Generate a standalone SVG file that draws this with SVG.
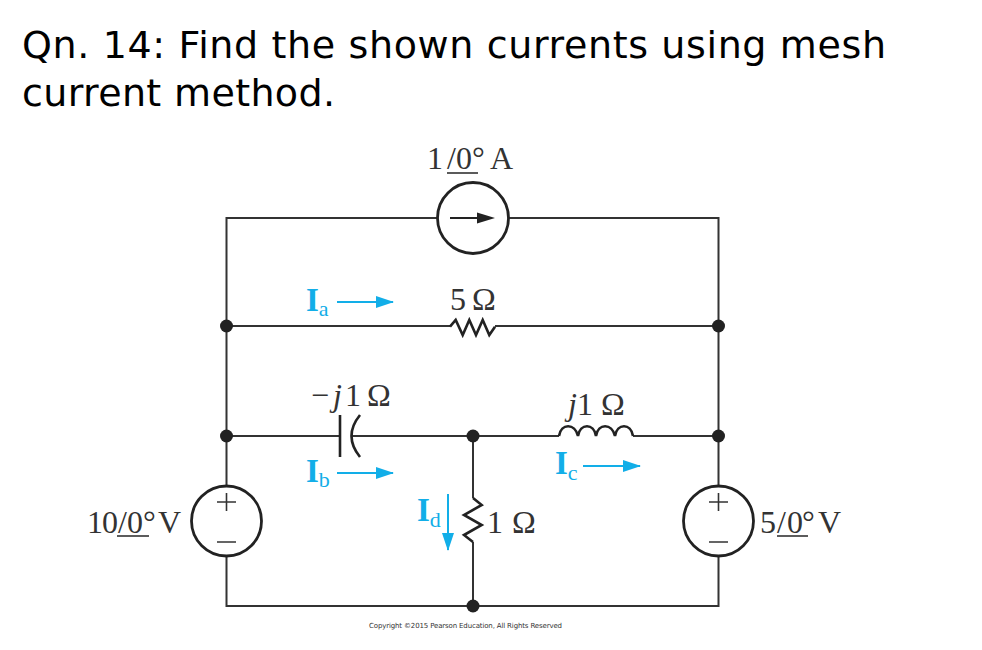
<svg xmlns="http://www.w3.org/2000/svg" width="982" height="650" viewBox="0 0 982 650">
<style>
.w{fill:none;stroke:#333;stroke-width:2}
.c{fill:none;stroke:#222;stroke-width:2.6}
.e{fill:#fff;stroke:#222;stroke-width:2.8}
.d{fill:#222}
.t{font-family:"Liberation Serif",serif;font-size:32px;fill:#333}
.n{font-style:italic}
.i{font-family:"Liberation Serif",serif;fill:#12aee8}
.b{font-weight:bold;font-size:33px}
.s{font-size:22px}
.h{font-family:"DejaVu Sans",sans-serif;font-size:38px;fill:#000}
.a{fill:none;stroke:#12aee8;stroke-width:2}
.p{fill:none;stroke:#333;stroke-width:1.6}
</style>
<defs>
<marker id="ah" markerUnits="userSpaceOnUse" markerWidth="18" markerHeight="14" refX="17" refY="7" orient="auto"><path d="M0 1L18 7L0 13Z" fill="#12aee8"/></marker>
</defs>
<g id="title">
<text class="h" x="22" y="58" textLength="864" lengthAdjust="spacing">Qn. 14: Find the shown currents using mesh</text>
<text class="h" x="22" y="106" textLength="313" lengthAdjust="spacing">current method.</text>
</g>
<g id="connectors">
<path class="w" d="M226.5 326V218H438M508 218H718.5V326M226.5 326V486M226.5 556V606H718.5V556M718.5 326V486M226 326H450M495 326H718M226 436H340M352 436H559M633 436H718M473 436V498M473 542V606"/>
</g>
<g id="current-source">
<circle class="e" cx="473" cy="218" r="35.5"/>
<path d="M450 218H480" stroke="#222" stroke-width="2"/>
<path d="M477 212.5L495 218L477 223.5Z" fill="#222"/>
<text class="t" y="169" x="427 447 456 472 482 490">1/0° A</text>
<path class="p" d="M447 173H478"/>
</g>
<g id="resistor-5">
<path class="c" d="M450 326.7L455.7 320L462.7 335L469.3 320L476 335L482.7 320L489.3 335L495 326.7"/>
<text class="t" y="310" x="450 464 472">5 Ω</text>
</g>
<g id="capacitor">
<path class="c" d="M340 415V457M360 415Q343 436 360 457"/>
<text class="t" y="406" x="311"><tspan>−</tspan><tspan class="n" x="333">j</tspan><tspan x="345 359 367">1 Ω</tspan></text>
</g>
<g id="inductor">
<path class="c" d="M559 436C561 423 575 423 578 436C580 423 594 423 596 436C598 423 612 423 615 436C617 423 631 423 633 436"/>
<text class="t" y="415"><tspan class="n" x="568">j</tspan><tspan x="577 593 601">1 Ω</tspan></text>
</g>
<g id="resistor-1">
<path class="c" d="M473 498L481.7 505L464 515L481.7 525L464 535L473 542"/>
<text class="t" y="533" x="487 503 512">1 Ω</text>
</g>
<g id="source-left">
<circle class="e" cx="226.5" cy="521" r="35"/>
<path class="p" d="M217 502H236M226.5 493V511M217 542H236"/>
<text class="t" y="533" x="87 102 118 127 143 152 158">10/0° V</text>
<path class="p" d="M117 536H149"/>
</g>
<g id="source-right">
<circle class="e" cx="718.5" cy="521" r="35"/>
<path class="p" d="M709 502H728M718.5 493V511M709 542H728"/>
<text class="t" y="533" x="760 777 787 802 812 818">5/0° V</text>
<path class="p" d="M777 536H808"/>
</g>
<g id="junctions">
<circle class="d" cx="226.5" cy="326" r="6.5"/>
<circle class="d" cx="718.5" cy="326" r="6.5"/>
<circle class="d" cx="226.5" cy="436" r="6.5"/>
<circle class="d" cx="473" cy="436" r="6.5"/>
<circle class="d" cx="718.5" cy="436" r="6.5"/>
<circle class="d" cx="473" cy="606" r="6.5"/>
</g>
<g id="current-a">
<text class="i" x="306" y="311"><tspan class="b">I</tspan><tspan class="s" dy="5">a</tspan></text>
<path class="a" d="M337 302H393" marker-end="url(#ah)"/>
</g>
<g id="current-b">
<text class="i" x="306" y="482"><tspan class="b">I</tspan><tspan class="s" dy="5">b</tspan></text>
<path class="a" d="M337 473H393" marker-end="url(#ah)"/>
</g>
<g id="current-c">
<text class="i" x="555" y="474"><tspan class="b">I</tspan><tspan class="s" dy="6">c</tspan></text>
<path class="a" d="M583 466H640" marker-end="url(#ah)"/>
</g>
<g id="current-d">
<text class="i" x="417" y="521"><tspan class="b">I</tspan><tspan class="s" dy="6">d</tspan></text>
<path class="a" d="M448 494V550" marker-end="url(#ah)"/>
</g>
<text x="369" y="628" font-family="DejaVu Sans, sans-serif" font-size="7" fill="#333" textLength="193">Copyright ©2015 Pearson Education, All Rights Reserved</text>
</svg>
